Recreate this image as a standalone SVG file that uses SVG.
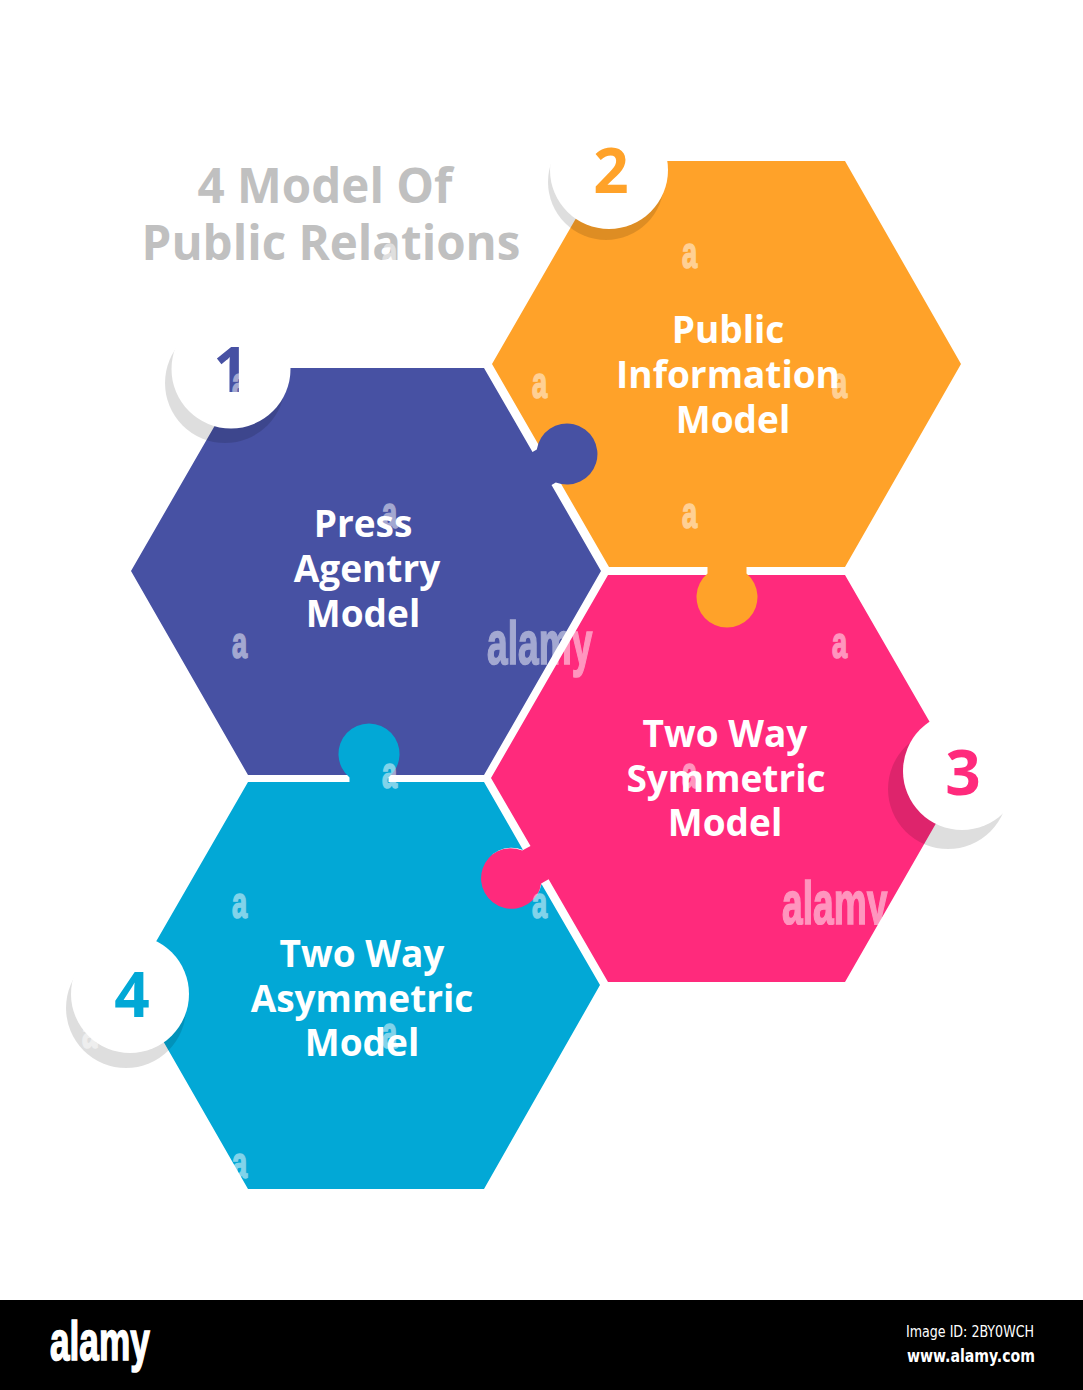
<svg xmlns="http://www.w3.org/2000/svg" width="1083" height="1390" viewBox="0 0 1083 1390">
<style>
.lbl{font-family:"Open Sans","Noto Sans",sans-serif;font-weight:700;font-size:37px;fill:#fff;text-anchor:middle}
.ttl{font-family:"Open Sans","Noto Sans",sans-serif;font-weight:700;font-size:47.5px;fill:#c0c0c0;text-anchor:middle}
.num{font-family:"Open Sans","Noto Sans",sans-serif;font-weight:700;font-size:62px;text-anchor:middle}
.sh{fill:#000;fill-opacity:.13}
.disc{fill:#fff}
.wm{font-family:"Liberation Sans",Arial,sans-serif;font-weight:700;fill:#fff;stroke:#fff;stroke-width:1.6;opacity:.5}
.bar{font-family:"DejaVu Sans Condensed","DejaVu Sans",sans-serif;fill:#fff}
</style>
<defs>
<text id="a" class="wm" font-size="44" transform="scale(.62 1)">a</text>
<text id="alamy" class="wm" font-size="62" transform="scale(.6 1)">alamy</text>
<clipPath id="cut"><rect x="770" y="870" width="140" height="55"/></clipPath>
</defs>
<rect width="1083" height="1390" fill="#fff"/>
<g id="title"><text class="ttl" x="325" y="203">4 Model Of</text><text class="ttl" x="331" y="260">Public Relations</text></g>
<g id="connectors"/>
<g id="node3">
<path fill="#FF2A7C" d="M608,575L845,575L962,778L845,982L608,982L548.6,879.3L541.2,883.6A31 31 0 1 1 522.2,850.6L530.5,846L491,778Z"/>
<circle class="sh" cx="948" cy="789" r="60"/><circle class="disc" cx="962" cy="771" r="59"/>
<text class="num" x="963" y="795" fill="#FF2A7C">3</text>
<text class="lbl"><tspan x="725" y="747">Two Way</tspan><tspan x="726" y="792">Symmetric</tspan><tspan x="725" y="836">Model</tspan></text>
</g>
<g id="node2">
<path fill="#FFA229" d="M609,161L845,161L961,364L845,567L746.5,567L746.5,573.6A30.5 30.5 0 1 1 707.5,573.6L707.5,567L609,567L492,364Z"/>
<circle class="sh" cx="606" cy="182" r="58"/><circle class="disc" cx="609" cy="170" r="59"/>
<text class="num" x="611" y="193" fill="#FFA229">2</text>
<text class="lbl"><tspan x="728" y="343">Public</tspan><tspan x="728" y="388">Information</tspan><tspan x="733" y="433">Model</tspan></text>
</g>
<g id="node1">
<path fill="#4751A3" d="M248,368L484,368L532.5,451.9L536.8,449.4A30.5 30.5 0 1 1 555.8,482.4L551.5,484.9L601,571L484,775L248,775L131,571Z"/>
<circle class="sh" cx="225" cy="383" r="60"/><circle class="disc" cx="231" cy="369" r="59.5"/>
<text class="num" x="231" y="392" fill="#4751A3">1</text>
<text class="lbl"><tspan x="363" y="537">Press</tspan><tspan x="367" y="582">Agentry</tspan><tspan x="363" y="627">Model</tspan></text>
</g>
<g id="node4">
<path fill="#02A8D6" d="M248,782L349.5,782L349.5,777.4A30.5 30.5 0 1 1 388.5,777.4L388.5,782L484,782L523,850A30.5 30.5 0 1 0 541.5,884L600,985L484,1189L248,1189L131,985Z"/>
<circle class="sh" cx="126" cy="1008" r="60"/><circle class="disc" cx="130" cy="994" r="59"/>
<text class="num" x="132" y="1017" fill="#02A8D6">4</text>
<text class="lbl"><tspan x="362" y="967">Two Way</tspan><tspan x="362" y="1012">Asymmetric</tspan><tspan x="362" y="1056">Model</tspan></text>
</g>
<g id="watermark">
<use href="#a" transform="translate(682,268)"/><use href="#a" transform="translate(532,398)"/><use href="#a" transform="translate(832,398)"/>
<use href="#a" transform="translate(682,528)"/><use href="#a" transform="translate(382,528)"/><use href="#a" transform="translate(232,658)"/>
<use href="#a" transform="translate(832,658)"/><use href="#a" transform="translate(682,788)"/><use href="#a" transform="translate(382,788)"/>
<use href="#a" transform="translate(232,918)"/><use href="#a" transform="translate(532,918)"/><use href="#a" transform="translate(382,1048)"/>
<use href="#a" transform="translate(82,1048)"/><use href="#a" transform="translate(232,1178)"/><use href="#a" transform="translate(382,268)"/><use href="#a" transform="translate(232,398)"/>
<use href="#alamy" transform="translate(487,664)"/><g clip-path="url(#cut)"><use href="#alamy" transform="translate(782,924)"/></g>
</g>
<g id="footer">
<rect y="1300" width="1083" height="90" fill="#000"/>
<text class="wm" style="opacity:1" font-size="55" transform="translate(50,1360) scale(.64 1)">alamy</text>
<text class="bar" x="906" y="1337" font-size="15.5" textLength="128" lengthAdjust="spacingAndGlyphs">Image ID: 2BY0WCH</text>
<text class="bar" x="907" y="1362" font-size="18" font-weight="700" textLength="128" lengthAdjust="spacingAndGlyphs">www.alamy.com</text>
</g>
</svg>
